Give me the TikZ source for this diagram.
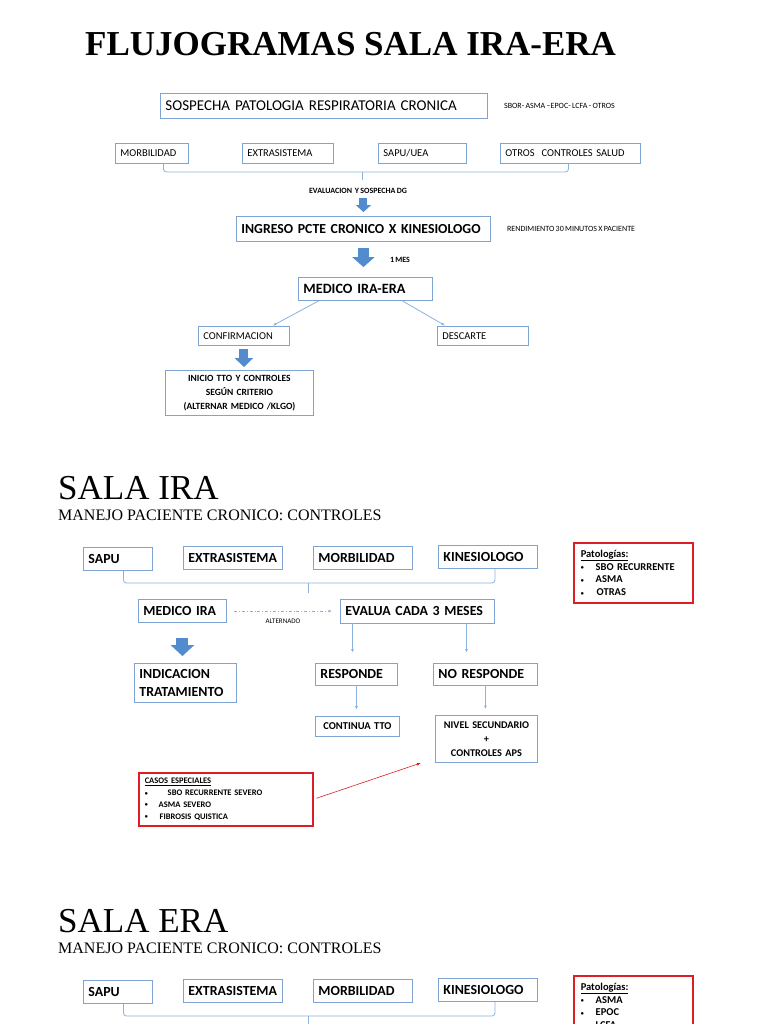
\documentclass[tikz,border=0pt]{standalone}
\usepackage{fontspec}
\setmainfont{Carlito}[WordSpace=0.75]
\newfontfamily\headfont{Liberation Serif}
\usetikzlibrary{arrows.meta,positioning}

\definecolor{boxline}{RGB}{126,164,212}
\definecolor{linkblue}{RGB}{140,178,222}
\definecolor{blockblue}{RGB}{83,139,207}
\definecolor{alertred}{RGB}{221,30,38}

\newcommand\pbul{{\fontsize{6}{6}\selectfont\raisebox{0.6pt}{\textbullet}}}

\begin{document}
\begin{tikzpicture}[x=1pt,y=-1pt,
  font=\fontsize{10.5}{12}\selectfont,
  box/.style={draw=boxline,line width=0.9pt,anchor=west,inner xsep=5pt,inner ysep=0pt,align=left},
  smallbox/.style={box,minimum height=20pt},
  bigbox/.style={box,font=\fontsize{15}{17}\selectfont,minimum height=25pt},
  salabox/.style={box,font=\fontsize{13.9}{17}\selectfont\bfseries,minimum height=23pt},
  redbox/.style={draw=alertred,line width=1.5pt,anchor=north west,inner xsep=7pt,inner ysep=4pt,align=left},
  link/.style={draw=linkblue,line width=0.8pt,-{Latex[length=3.5pt,width=3pt]}},
  brace/.style={draw=linkblue,line width=0.8pt,rounded corners=3pt},
  blockarrow/.style n args={3}{draw=blockblue,line width=#1,-{Triangle[width=#2,length=#3]}},
  note/.style={inner sep=0pt,font=\fontsize{8}{9}\selectfont},
  tagtxt/.style={inner sep=0pt,font=\fontsize{8}{9}\selectfont\bfseries},
  heading/.style={anchor=base west,inner sep=0pt,font=\headfont\fontsize{35}{40}\selectfont},
  subheading/.style={anchor=base west,inner sep=0pt,font=\headfont\fontsize{16}{18}\selectfont},
]
  \useasboundingbox (0,0) rectangle (768,1024);
  \fill[white] (0,0) rectangle (768,1024);
  \clip (0,0) rectangle (768,1024);

  \node[anchor=base west,inner sep=0pt,font=\headfont\bfseries\fontsize{35}{40}\selectfont] (title) at (85,56) {FLUJOGRAMAS SALA IRA-ERA};

  % flujograma general
  \node[bigbox,text width=317] (sosp) at (160,106) {SOSPECHA PATOLOGIA RESPIRATORIA CRONICA};
  \node[note,right=16pt of sosp] (sospnote) {SBOR- ASMA –EPOC- LCFA - OTROS};

  \node[smallbox,text width=63] (morb) at (115,153) {MORBILIDAD};
  \node[smallbox,text width=81] (extra) at (242,153) {EXTRASISTEMA};
  \node[smallbox,text width=78] (sapuuea) at (378,153) {SAPU/UEA};
  \node[smallbox,text width=130] (otros) at (500,153) {OTROS\ \ CONTROLES SALUD};
  \coordinate (brace1) at (362,172);
  \draw[brace] ([xshift=11.5]morb.south) |- (brace1) -| ([xshift=-2]otros.south);
  \draw[brace] (brace1) -- ++(0,8);

  \node[tagtxt] (evaltxt) at (358,191) {EVALUACION\ \ Y SOSPECHA DG};
  \node[bigbox,text width=244,font=\fontsize{13.8}{16}\selectfont\bfseries] (ingreso) at (236,229) {INGRESO PCTE CRONICO X KINESIOLOGO};
  \node[note,right=16pt of ingreso] (rendnote) {RENDIMIENTO 30 MINUTOS X PACIENTE};
  \draw[blockarrow={8pt}{15pt}{7pt},shorten <=4pt,shorten >=4pt] (evaltxt.south -| ingreso.north) -- (ingreso.north);

  \node[bigbox,text width=124,font=\fontsize{14.2}{16}\selectfont\bfseries,minimum height=23pt] (medico) at (298,289) {MEDICO IRA-ERA};
  \draw[blockarrow={11pt}{22pt}{10pt},shorten <=6pt,shorten >=10pt] (ingreso.south) -- (ingreso.south |- medico.north);
  \node[tagtxt] (mestxt) at (400,260) {1 MES};

  \node[smallbox,text width=81,minimum height=19pt] (confirm) at (198,336) {CONFIRMACION};
  \node[smallbox,text width=81,minimum height=19pt] (descarte) at (437,336) {DESCARTE};
  \draw[link,shorten >=1pt] ([xshift=-47]medico.south) -- ([xshift=28]confirm.north);
  \draw[link,shorten >=1pt] ([xshift=37]medico.south) -- ([xshift=-37]descarte.north);

  \node[smallbox,align=center,text width=138,minimum height=45pt,font=\fontsize{9.5}{14}\selectfont\bfseries] (inicio) at (165,393) {INICIO TTO Y CONTROLES\\SEGÚN CRITERIO\\(ALTERNAR MEDICO /KLGO)};
  \draw[blockarrow={9pt}{18pt}{9pt},shorten <=3pt,shorten >=3pt] (confirm.south) -- (confirm.south |- inicio.north);

  % sala ira
  \node[heading] (iratitle) at (58,499) {SALA IRA};
  \node[subheading] (irasub) at (58,520) {MANEJO PACIENTE CRONICO: CONTROLES};

  \node[salabox,text width=59] (sapu) at (83,559) {SAPU};
  \node[salabox,text width=89] (extra2) at (183,558) {EXTRASISTEMA};
  \node[salabox,text width=89] (morb2) at (313,558) {MORBILIDAD};
  \node[salabox,text width=89] (kine2) at (438,557) {KINESIOLOGO};
  \coordinate (brace2) at (308,583);
  \draw[brace] ([xshift=5.5]sapu.south) |- (brace2) -| ([xshift=7]kine2.south);
  \draw[brace] (brace2) -- ++(0,10);

  \node[redbox,text width=105,minimum height=60pt,font=\fontsize{10.5}{12.8}\selectfont\bfseries] (patira) at (573,542)
    {\underline{Patologías:}\\\pbul\hspace{12pt}SBO RECURRENTE\\\pbul\hspace{12pt}ASMA\\\pbul\hspace{13pt}OTRAS};

  \node[salabox,text width=78] (medira) at (138,611) {MEDICO IRA};
  \node[salabox,text width=144,minimum height=24pt] (evalua) at (340,611) {EVALUA CADA 3 MESES};
  \draw[link,dash dot] ([xshift=7]medira.east) -- node[note,below=8pt,font=\fontsize{7}{8}\selectfont] (alttxt) {ALTERNADO} ([xshift=-8]evalua.west);

  \node[salabox,text width=92,minimum height=39pt,font=\fontsize{13.9}{18}\selectfont\bfseries] (indica) at (134,683) {INDICACION\\TRATAMIENTO};
  \draw[blockarrow={12pt}{23pt}{11pt},shorten <=15pt,shorten >=7pt] (medira.south) -- (medira.south |- indica.north);

  \node[salabox,text width=72,minimum height=22pt] (resp) at (315,674) {RESPONDE};
  \node[salabox,text width=94,minimum height=22pt] (noresp) at (433,674) {NO RESPONDE};
  \draw[link,shorten >=10pt] ([xshift=-65]evalua.south) -- ([xshift=-65]evalua.south |- resp.north);
  \draw[link,shorten >=10pt] ([xshift=49]evalua.south) -- ([xshift=49]evalua.south |- noresp.north);

  \node[smallbox,align=center,text width=74,font=\fontsize{10.5}{12}\selectfont\bfseries] (contin) at (315,726) {CONTINUA TTO};
  \node[smallbox,align=center,text width=92,minimum height=47pt,font=\fontsize{10.3}{14}\selectfont\bfseries] (nivel) at (435,739) {NIVEL SECUNDARIO\\+\\CONTROLES APS};
  \draw[link,shorten >=6pt] (resp.south) -- (resp.south |- contin.north);
  \draw[link,shorten >=6pt] (noresp.south) -- (noresp.south |- nivel.north);

  \node[redbox,text width=162,minimum height=53pt,inner xsep=6pt,font=\fontsize{8.5}{11.7}\selectfont\bfseries] (casos) at (138,772)
    {\underline{CASOS ESPECIALES}\\\pbul\hspace{20pt}SBO RECURRENTE SEVERO\\\pbul\hspace{11pt}ASMA SEVERO\\\pbul\hspace{12pt}FIBROSIS QUISTICA};
  \draw[draw=alertred,line width=0.6pt,-{Latex[length=4pt,width=3pt]},shorten <=3pt] (casos.east) -- ([xshift=-14]nivel.south west);

  % sala era
  \node[heading] (eratitle) at (58,932) {SALA ERA};
  \node[subheading] (erasub) at (58,953) {MANEJO PACIENTE CRONICO: CONTROLES};

  \node[salabox,text width=59] (sapu3) at (83,992) {SAPU};
  \node[salabox,text width=89] (extra3) at (183,991) {EXTRASISTEMA};
  \node[salabox,text width=89] (morb3) at (313,991) {MORBILIDAD};
  \node[salabox,text width=89] (kine3) at (438,990) {KINESIOLOGO};
  \coordinate (brace3) at (308,1016);
  \draw[brace] ([xshift=5.5]sapu3.south) |- (brace3) -| ([xshift=7]kine3.south);
  \draw[brace] (brace3) -- ++(0,12);

  \node[redbox,text width=105,minimum height=60pt,font=\fontsize{10.5}{12.8}\selectfont\bfseries] (patera) at (573,975)
    {\underline{Patologías:}\\\pbul\hspace{12pt}ASMA\\\pbul\hspace{12pt}EPOC\\\pbul\hspace{12pt}LCFA};
\end{tikzpicture}
\end{document}
